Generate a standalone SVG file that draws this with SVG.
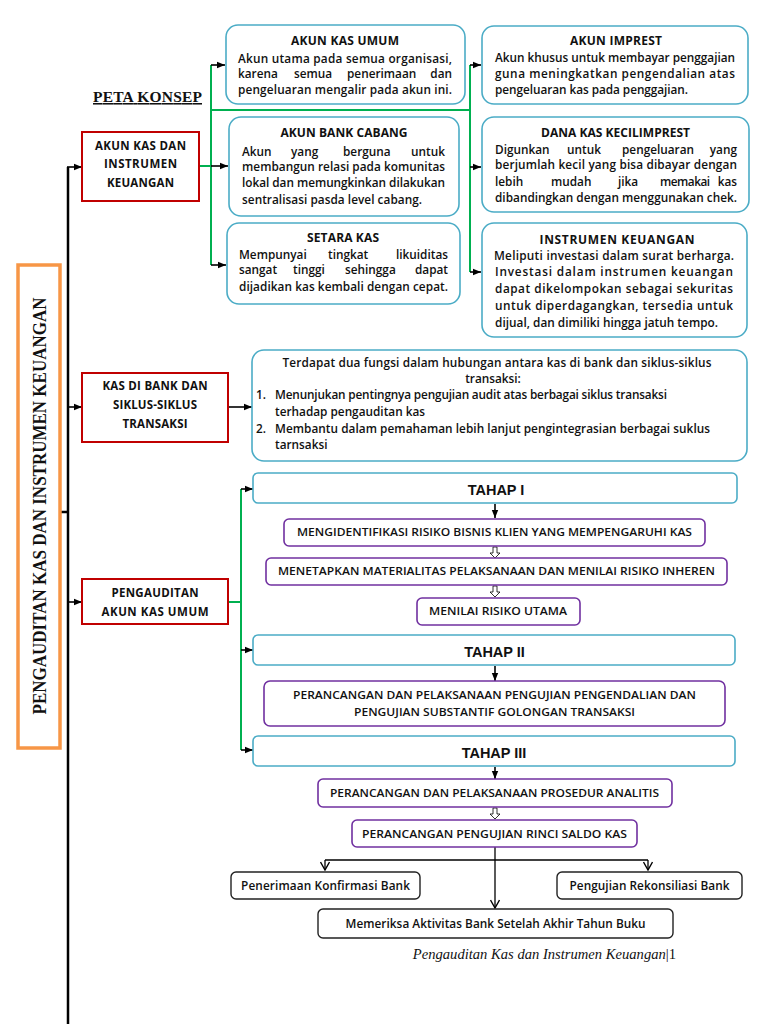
<svg xmlns="http://www.w3.org/2000/svg" width="768" height="1024" viewBox="0 0 768 1024">
<style>
  .bg{fill:#fff}
  .tb{fill:#fff;stroke:#4BACC6;stroke-width:1.6}
  .rb{fill:#fff;stroke:#C00000;stroke-width:2}
  .pb{fill:#fff;stroke:#7030A0;stroke-width:1.6}
  .kb{fill:#fff;stroke:#222;stroke-width:1.4}
  .ob{fill:#fff;stroke:#F79646;stroke-width:3.5}
  text{font-family:"Open Sans","Noto Sans","Liberation Sans",sans-serif;fill:#111}
  .h{font-size:12px;font-weight:700;text-anchor:middle}
  .r{font-size:11.5px;font-weight:700;text-anchor:middle}
  .b{font-size:11.8px;font-weight:600}
  .e{font-size:11.8px;font-weight:600;text-anchor:end}
  .c{font-size:11px;font-weight:600;text-anchor:middle}
  .tp{font-family:"Liberation Sans",Arial,sans-serif;font-size:14.5px;font-weight:700;text-anchor:middle}
  .n{font-size:11.8px;font-weight:600;text-anchor:middle}
  .ser{font-family:"Liberation Serif","Times New Roman",serif}
  .blk{stroke:#000;stroke-width:2.5;fill:none}
  .grn{stroke:#00B050;stroke-width:2;fill:none}
  .ar{stroke:#000;stroke-width:1.6;fill:none;marker-end:url(#ah)}
  .thin{stroke:#000;stroke-width:1.3;fill:none}
  .hol{fill:#fff;stroke:#000;stroke-width:0.8}
</style>
<defs>
  <marker id="ah" viewBox="0 0 10 10" refX="10" refY="5" markerWidth="8" markerHeight="8" markerUnits="userSpaceOnUse" orient="auto">
    <path d="M0,1 L10,5 L0,9 z" fill="#000"/>
  </marker>
  <marker id="av" viewBox="0 0 10 10" refX="9" refY="5" markerWidth="10" markerHeight="10" markerUnits="userSpaceOnUse" orient="auto">
    <path d="M1,0.5 L9,5 L1,9.5" fill="none" stroke="#000" stroke-width="1.4"/>
  </marker>
</defs>
<rect class="bg" x="0" y="0" width="768" height="1024"/>

<!-- connectors -->
<g id="connectors">
  <path class="blk" d="M68,1024 V167"/>
  <path class="blk" d="M60,512 H68"/>
  <path class="ar" d="M67,167 H82"/>
  <path class="ar" d="M67,407 H82"/>
  <path class="ar" d="M67,602 H82"/>
  <path class="ar" stroke-width="1.3" d="M228,407 H252"/>
  <path class="grn" d="M199,166 H211"/>
  <path class="grn" d="M211,65 V265"/>
  <path class="grn" d="M211,110 H470"/>
  <path class="grn" d="M470,65 V272"/>
  <path class="ar" d="M211,65 H225"/>
  <path class="ar" d="M211,166 H228"/>
  <path class="ar" d="M211,265 H226"/>
  <path class="ar" d="M470,65 H481"/>
  <path class="ar" d="M470,167 H481"/>
  <path class="ar" d="M470,272 H481"/>
  <path class="grn" d="M228,602 H241"/>
  <path class="grn" d="M241,489 V750"/>
  <path class="ar" d="M241,489 H253"/>
  <path class="ar" d="M241,650 H253"/>
  <path class="ar" d="M241,750 H253"/>
  <path class="ar" stroke-width="1.3" d="M495,504 V518"/>
  <path class="ar" stroke-width="1.3" d="M495,666 V681"/>
  <path class="ar" stroke-width="1.3" d="M495,767 V779"/>
  <path class="hol" d="M493,547 h4 v6 h3 l-5,5 l-5,-5 h3 z"/>
  <path class="hol" d="M493,586 h4 v6 h3 l-5,5 l-5,-5 h3 z"/>
  <path class="hol" d="M493,808 h4 v6 h3 l-5,5 l-5,-5 h3 z"/>
  <path class="thin" d="M495,847 V908" marker-end="url(#av)"/>
  <path class="thin" d="M325,860 H648"/>
  <path class="thin" d="M325,860 V870" marker-end="url(#av)"/>
  <path class="thin" d="M648,860 V870" marker-end="url(#av)"/>
</g>

<!-- title -->
<g id="peta-konsep">
  <text class="ser" x="93" y="102" font-size="15.5" font-weight="700" text-decoration="underline" textLength="109">PETA KONSEP</text>
</g>

<g id="main-title">
  <rect class="ob" x="18" y="265" width="42" height="483"/>
  <text class="ser" transform="translate(46,506) rotate(-90)" font-size="18" font-weight="700" text-anchor="middle" textLength="417" lengthAdjust="spacingAndGlyphs">PENGAUDITAN KAS DAN INSTRUMEN KEUANGAN</text>
</g>

<g id="akun-kas-dan-instrumen">
  <rect class="rb" x="82" y="132" width="117" height="69"/>
  <text class="r" x="140.5" y="150" textLength="91">AKUN KAS DAN</text>
  <text class="r" x="140.5" y="168" textLength="73">INSTRUMEN</text>
  <text class="r" x="140.5" y="187" textLength="67">KEUANGAN</text>
</g>

<g id="kas-di-bank">
  <rect class="rb" x="82" y="373" width="146" height="69"/>
  <text class="r" x="155" y="390" textLength="105">KAS DI BANK DAN</text>
  <text class="r" x="155" y="409" textLength="84">SIKLUS-SIKLUS</text>
  <text class="r" x="155" y="428" textLength="65">TRANSAKSI</text>
</g>

<g id="pengauditan-akun">
  <rect class="rb" x="82" y="579" width="146" height="45"/>
  <text class="r" x="155" y="597" textLength="87">PENGAUDITAN</text>
  <text class="r" x="155" y="616" textLength="107">AKUN KAS UMUM</text>
</g>

<g id="akun-kas-umum">
  <rect class="tb" x="226" y="25" width="239" height="79" rx="12"/>
  <text class="h" x="345" y="45" textLength="108">AKUN KAS UMUM</text>
  <text class="b" x="238" y="63" textLength="214">Akun utama pada semua organisasi,</text>
  <text class="b" y="78"><tspan x="238">karena</tspan><tspan x="294">semua</tspan><tspan x="347">penerimaan</tspan></text>
  <text class="e" x="452" y="78">dan</text>
  <text class="b" x="238" y="94" textLength="214">pengeluaran mengalir pada akun ini.</text>
</g>

<g id="akun-bank-cabang">
  <rect class="tb" x="229" y="117" width="230" height="99" rx="12"/>
  <text class="h" x="344" y="137" textLength="127">AKUN BANK CABANG</text>
  <text class="b" y="156"><tspan x="242">Akun</tspan><tspan x="291">yang</tspan><tspan x="343">berguna</tspan></text>
  <text class="e" x="445" y="156">untuk</text>
  <text class="b" x="242" y="171" textLength="203">membangun relasi pada komunitas</text>
  <text class="b" x="242" y="187" textLength="203">lokal dan memungkinkan dilakukan</text>
  <text class="b" x="242" y="204" textLength="180">sentralisasi pasda level cabang.</text>
</g>

<g id="setara-kas">
  <rect class="tb" x="227" y="223" width="233" height="81" rx="12"/>
  <text class="h" x="343" y="242" textLength="72">SETARA KAS</text>
  <text class="b" y="259"><tspan x="239">Mempunyai</tspan><tspan x="328">tingkat</tspan></text>
  <text class="e" x="448" y="259">likuiditas</text>
  <text class="b" y="274"><tspan x="239">sangat</tspan><tspan x="293">tinggi</tspan><tspan x="345">sehingga</tspan></text>
  <text class="e" x="448" y="274">dapat</text>
  <text class="b" x="239" y="291" textLength="209">dijadikan kas kembali dengan cepat.</text>
</g>

<g id="akun-imprest">
  <rect class="tb" x="482" y="26" width="266" height="78" rx="12"/>
  <text class="h" x="616" y="45" textLength="92">AKUN IMPREST</text>
  <text class="b" x="495" y="62" textLength="240">Akun khusus untuk membayar penggajian</text>
  <text class="b" x="495" y="78" textLength="240">guna meningkatkan pengendalian atas</text>
  <text class="b" x="495" y="94" textLength="193">pengeluaran kas pada penggajian.</text>
</g>

<g id="dana-kas-kecil">
  <rect class="tb" x="482" y="117" width="267" height="95" rx="12"/>
  <text class="h" x="615.5" y="137" textLength="149">DANA KAS KECILIMPREST</text>
  <text class="b" y="154"><tspan x="495">Digunkan</tspan><tspan x="567">untuk</tspan><tspan x="622">pengeluaran</tspan></text>
  <text class="e" x="737" y="154">yang</text>
  <text class="b" x="495" y="169" textLength="242">berjumlah kecil yang bisa dibayar dengan</text>
  <text class="b" y="186"><tspan x="495">lebih</tspan><tspan x="551">mudah</tspan><tspan x="618">jika</tspan></text>
  <text class="b" x="660" y="186" textLength="50">memakai</text>
  <text class="e" x="737" y="186">kas</text>
  <text class="b" x="495" y="202" textLength="242">dibandingkan dengan menggunakan chek.</text>
</g>

<g id="instrumen-keuangan">
  <rect class="tb" x="482" y="223" width="265" height="114" rx="12"/>
  <text class="h" x="617" y="244" textLength="155">INSTRUMEN KEUANGAN</text>
  <text class="b" x="494" y="260" textLength="240">Meliputi investasi dalam surat berharga.</text>
  <text class="b" x="495" y="276" textLength="238">Investasi dalam instrumen keuangan</text>
  <text class="b" x="495" y="293" textLength="238">dapat dikelompokan sebagai sekuritas</text>
  <text class="b" x="495" y="310" textLength="238">untuk diperdagangkan, tersedia untuk</text>
  <text class="b" x="495" y="327" textLength="223">dijual, dan dimiliki hingga jatuh tempo.</text>
</g>

<g id="dua-fungsi">
  <rect class="tb" x="252" y="350" width="495" height="111" rx="12"/>
  <text class="n" x="497" y="367" textLength="429">Terdapat dua fungsi dalam hubungan antara kas di bank dan siklus-siklus</text>
  <text class="n" x="493" y="383">transaksi:</text>
  <text class="b" x="256" y="399">1.</text>
  <text class="b" x="275" y="399" textLength="392">Menunjukan pentingnya pengujian audit atas berbagai siklus transaksi</text>
  <text class="b" x="275" y="416">terhadap pengauditan kas</text>
  <text class="b" x="256" y="433">2.</text>
  <text class="b" x="275" y="433" textLength="435">Membantu dalam pemahaman lebih lanjut pengintegrasian berbagai suklus</text>
  <text class="b" x="275" y="449">tarnsaksi</text>
</g>

<g id="tahap-1">
  <rect class="tb" x="253" y="473" width="484" height="30" rx="5"/>
  <text class="tp" x="496" y="495">TAHAP I</text>
</g>
<g id="mengidentifikasi">
  <rect class="pb" x="284" y="519" width="421" height="27" rx="5"/>
  <text class="c" x="494.5" y="536" textLength="395" lengthAdjust="spacingAndGlyphs">MENGIDENTIFIKASI RISIKO BISNIS KLIEN YANG MEMPENGARUHI KAS</text>
</g>
<g id="menetapkan">
  <rect class="pb" x="266" y="558" width="461" height="27" rx="5"/>
  <text class="c" x="496.5" y="575" textLength="437" lengthAdjust="spacingAndGlyphs">MENETAPKAN MATERIALITAS PELAKSANAAN DAN MENILAI RISIKO INHEREN</text>
</g>
<g id="menilai-risiko">
  <rect class="pb" x="417" y="598" width="163" height="27" rx="5"/>
  <text class="c" x="498" y="615" textLength="138" lengthAdjust="spacingAndGlyphs">MENILAI RISIKO UTAMA</text>
</g>

<g id="tahap-2">
  <rect class="tb" x="253" y="635" width="482" height="30" rx="5"/>
  <text class="tp" x="494.5" y="657">TAHAP II</text>
</g>
<g id="perancangan-pengujian">
  <rect class="pb" x="264" y="681" width="461" height="45" rx="6"/>
  <text class="c" x="494.5" y="699" textLength="403" lengthAdjust="spacingAndGlyphs">PERANCANGAN DAN PELAKSANAAN PENGUJIAN PENGENDALIAN DAN</text>
  <text class="c" x="494.5" y="716" textLength="281" lengthAdjust="spacingAndGlyphs">PENGUJIAN SUBSTANTIF GOLONGAN TRANSAKSI</text>
</g>

<g id="tahap-3">
  <rect class="tb" x="253" y="736" width="482" height="30" rx="5"/>
  <text class="tp" x="494" y="758">TAHAP III</text>
</g>
<g id="prosedur-analitis">
  <rect class="pb" x="318" y="779" width="354" height="28" rx="5"/>
  <text class="c" x="494.5" y="797" textLength="329" lengthAdjust="spacingAndGlyphs">PERANCANGAN DAN PELAKSANAAN PROSEDUR ANALITIS</text>
</g>
<g id="rinci-saldo">
  <rect class="pb" x="352" y="820" width="285" height="27" rx="5"/>
  <text class="c" x="494.5" y="838" textLength="265" lengthAdjust="spacingAndGlyphs">PERANCANGAN PENGUJIAN RINCI SALDO KAS</text>
</g>

<g id="konfirmasi-bank">
  <rect class="kb" x="231" y="872" width="189" height="27" rx="5"/>
  <text class="n" x="325.5" y="890" textLength="169">Penerimaan Konfirmasi Bank</text>
</g>
<g id="rekonsiliasi-bank">
  <rect class="kb" x="557" y="872" width="185" height="27" rx="5"/>
  <text class="n" x="649.5" y="890" textLength="160">Pengujian Rekonsiliasi Bank</text>
</g>
<g id="aktivitas-bank">
  <rect class="kb" x="318" y="909" width="355" height="29" rx="5"/>
  <text class="n" x="495.5" y="928" textLength="300">Memeriksa Aktivitas Bank Setelah Akhir Tahun Buku</text>
</g>

<g id="footer">
  <text class="ser" x="676" y="959" font-size="14.6" text-anchor="end"><tspan font-style="italic">Pengauditan Kas dan Instrumen Keuangan</tspan>|1</text>
</g>
</svg>
